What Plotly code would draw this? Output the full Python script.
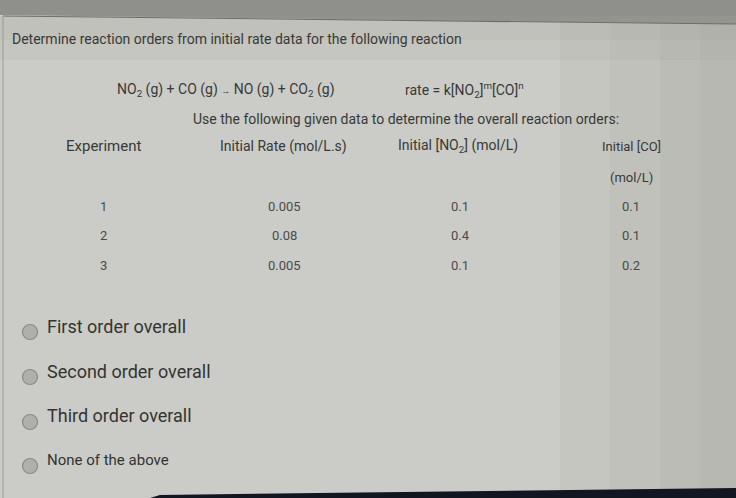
import plotly.graph_objects as go

title_text = "Determine reaction orders from initial rate data for the following reaction"
equation_text = "NO<sub>2</sub> (g) + CO (g) <span style='font-size:9px'>→</span> NO (g) + CO<sub>2</sub> (g)"
rate_law_text = "rate = k[NO<sub>2</sub>]<sup>m</sup>[CO]<sup>n</sup>"
instruction_text = "Use the following given data to determine the overall reaction orders:"

column_headers = ["Experiment", "Initial Rate (mol/L.s)", "Initial [NO<sub>2</sub>] (mol/L)", "Initial [CO]", "(mol/L)"]
experiments = ["1", "2", "3"]
initial_rate = ["0.005", "0.08", "0.005"]
initial_no2 = ["0.1", "0.4", "0.1"]
initial_co = ["0.1", "0.1", "0.2"]
options = ["First order overall", "Second order overall", "Third order overall", "None of the above"]

W, H = 736, 498
FONT = "Roboto"
TXT = "#383937"
NUM = "#4a4b49"

fig = go.Figure()

# radio buttons
opt_y = [332, 377, 422, 466]
fig.add_trace(go.Scatter(
    x=[30] * len(options), y=opt_y, mode="markers",
    marker=dict(size=15, color="#afb0ac", line=dict(color="#8a8b88", width=1.2)),
    hoverinfo="skip", showlegend=False))

ann = []
def add(x, y, text, size, color=TXT, xanchor="left"):
    ann.append(dict(x=x, y=y, xref="x", yref="y", text=text, showarrow=False,
                    xanchor=xanchor, yanchor="middle", borderpad=0,
                    font=dict(family=FONT, size=size, color=color)))

add(11, 39, title_text, 14)
add(116, 90, equation_text, 14)
add(404, 90, rate_law_text, 14)
add(192, 119, instruction_text, 14)

header_x = [103, 283, 458, 631]
header_size = [15, 14, 14, 13]
for hx, ht, hs in zip(header_x, column_headers[:4], header_size):
    add(hx, 146, ht, hs, xanchor="center")
add(header_x[3], 177, column_headers[4], 13, xanchor="center")

# table values
col_x = [103, 284, 460, 631]
row_y = [206, 235, 265]
for cx, vals in zip(col_x, [experiments, initial_rate, initial_no2, initial_co]):
    for ry, v in zip(row_y, vals):
        add(cx, ry, v, 13, color=NUM, xanchor="center")

opt_sizes = [18, 18, 18, 15]
opt_ty = [326, 371, 415, 460]
for t, yy, s in zip(options, opt_ty, opt_sizes):
    add(46, yy, t, s, color="#333432")

shapes = [
    dict(type="path", xref="x", yref="y", path="M0,0 L736,0 L736,24 L0,15 Z",
         fillcolor="#8f908c", line=dict(width=0), layer="below"),
    dict(type="line", xref="x", yref="y", x0=3, y0=16, x1=736, y1=24,
         line=dict(color="#6d6e6a", width=1.2)),
    dict(type="line", xref="x", yref="y", x0=3, y0=16, x1=3, y1=498,
         line=dict(color="#9a9b97", width=1)),
    dict(type="path", xref="x", yref="y", path="M150,498 L160,495 L736,488 L736,498 Z",
         fillcolor="#121620", line=dict(width=0)),
]
# soft vignette toward the right and top
for x0 in [560, 610, 660, 700]:
    shapes.append(dict(type="rect", xref="x", yref="y", x0=x0, y0=16, x1=736, y1=490,
                       fillcolor="#9a9b97", opacity=0.12, line=dict(width=0), layer="below"))
for y1 in [60, 40]:
    shapes.append(dict(type="rect", xref="x", yref="y", x0=0, y0=16, x1=736, y1=y1,
                       fillcolor="#9a9b97", opacity=0.12, line=dict(width=0), layer="below"))

fig.update_layout(
    width=W, height=H, margin=dict(l=0, r=0, t=0, b=0),
    paper_bgcolor="#cbccc7", plot_bgcolor="#cbccc7",
    xaxis=dict(range=[0, W], visible=False, fixedrange=True),
    yaxis=dict(range=[H, 0], visible=False, fixedrange=True),
    annotations=ann, shapes=shapes, showlegend=False,
)

fig.write_html("out.html", config={"displayModeBar": False},
               post_script="document.body.style.margin='0';document.body.style.overflow='hidden';")
